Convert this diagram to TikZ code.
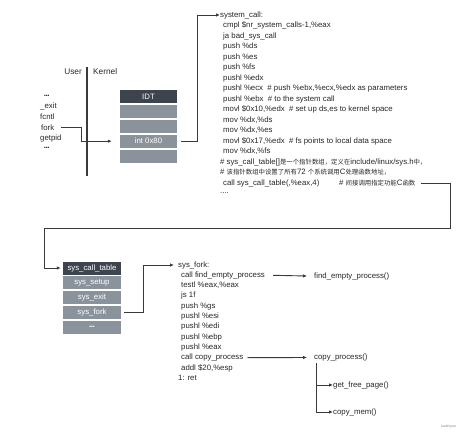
\documentclass[tikz,border=0pt]{standalone}
\usepackage{fontspec}
\setmainfont{Liberation Sans}
\newfontfamily\cjk[Scale=0.82]{Noto Sans CJK SC}
\usetikzlibrary{arrows.meta,positioning}
\definecolor{headgray}{HTML}{3E444D}
\definecolor{cellgray}{HTML}{8A939B}
\definecolor{linegray}{HTML}{3A3A3A}
\newcommand{\bdots}{{\fontsize{5}{6}\selectfont\textbf{•••}}}
\tikzset{
  cell/.style={fill=cellgray, text=white, minimum width=57pt, minimum height=13pt, inner sep=0pt, font=\fontsize{7.8}{9}\selectfont},
  head/.style={cell, fill=headgray},
  code/.style={anchor=west, inner sep=0pt, font=\fontsize{7.8}{9}\selectfont, text=black!85},
  arr/.style={-{Latex[length=4pt,width=3.5pt]}, draw=linegray, line width=0.9pt}
}
\begin{document}
\begin{tikzpicture}[x=1pt,y=-1pt]
\useasboundingbox (0,0) rectangle (474,436);
% user / kernel split
\node[code, anchor=east, font=\fontsize{8.3}{9}\selectfont] (user) at (82,72) {User};
\node[code, font=\fontsize{8.3}{9}\selectfont] (kernel) at (93,72) {Kernel};
\coordinate (septop) at (87,67);
\coordinate (sepbot) at (87,176);
\draw[linegray, line width=1.2pt] (septop) -- (sepbot);
\node[code] (dots1) at (44,96) {\bdots};
\node[code] (exit) at (40,106.5) {\_exit};
\node[code] (fcntl) at (40,117) {fcntl};
\node[code] (fork) at (41,127.5) {fork};
\node[code] (getpid) at (40,138) {getpid};
\node[code] (dots2) at (44,148) {\bdots};

% IDT
\node[head] (idt0) at (148.5,96.5) {IDT};
\node[cell, below=1.5pt of idt0] (idt1) {};
\node[cell, below=1.5pt of idt1] (idt2) {};
\node[cell, below=1.5pt of idt2] (idt3) {int 0x80};
\node[cell, below=1.5pt of idt3] (idt4) {};
\draw[arr] ([xshift=7pt]fork.east) -- ++(20,0) |- ([xshift=-8pt]idt3.west);

% system_call
\node[code] (sc-0) at (220,15) {system\_call:};
\foreach \txt [count=\i] in {
  cmpl \$nr\_system\_calls-1{,}\%eax,
  ja bad\_sys\_call,
  push \%ds,
  push \%es,
  push \%fs,
  pushl \%edx,
  {pushl \%ecx~~\# push \%ebx,\%ecx,\%edx as parameters},
  pushl \%ebx~~\# to the system call,
  {movl \$0x10,\%edx~~\# set up ds,es to kernel space},
  {mov \%dx,\%ds},
  {mov \%dx,\%es},
  {movl \$0x17,\%edx~~\# fs points to local data space},
  {mov \%dx,\%fs}}
  \node[code] (sc-\i) at (223,15+10.5*\i) {\txt};
\node[code] (sc-14) at (220,162) {\# sys\_call\_table[]{\cjk 是一个指针数组，定义在}include/linux/sys.h{\cjk 中，}};
\node[code] (sc-15) at (220,172.5) {\# {\cjk 该指针数组中设置了所有}72 {\cjk 个系统调用}C{\cjk 处理函数地址，}};
\node[code] (sc-16) at (223,183) {call sys\_call\_table(,\%eax,4)};
\node[code] (sccmt) at (339,183) {\# {\cjk 间接调用指定功能}C{\cjk 函数}};
\node[code] (sc-17) at (220,193.5) {....};
\draw[arr] ([xshift=4pt]idt3.east) -- ++(16,0) |- (sc-0.west);

% sys_call_table
\coordinate (back) at (44,228);
\node[head, minimum width=58pt] (sct0) at (92,268) {sys\_call\_table};
\node[cell, minimum width=58pt, below=1.5pt of sct0] (sct1) {sys\_setup};
\node[cell, minimum width=58pt, below=1.5pt of sct1] (sct2) {sys\_exit};
\node[cell, minimum width=58pt, below=1.5pt of sct2] (sct3) {sys\_fork};
\node[cell, minimum width=58pt, below=1.5pt of sct3] (sct4) {\bdots};
\draw[arr] ([xshift=5pt]sccmt.east) -- (450,183) |- (back) |- ([xshift=-2pt]sct0.west);

% sys_fork
\node[code] (sf-0) at (178,265) {sys\_fork:};
\foreach \txt [count=\i] in {
  call find\_empty\_process,
  {testl \%eax,\%eax},
  js 1f,
  push \%gs,
  pushl \%esi,
  pushl \%edi,
  pushl \%ebp,
  pushl \%eax,
  call copy\_process,
  {addl \$20,\%esp}}
  \node[code] (sf-\i) at (181,265+10.3*\i) {\txt};
\node[code] (sf-11) at (178,378.3) {1: ret};
\draw[arr] ([xshift=3pt]sct3.east) -- ++(19,0) |- ([xshift=-4pt]sf-0.west);

% callees
\node[code] (fep) at (314,276) {find\_empty\_process()};
\node[code] (cpp) at (314,357.5) {copy\_process()};
\node[code] (gfp) at (333,385) {get\_free\_page()};
\node[code] (cpm) at (333,412) {copy\_mem()};
\draw[arr] ([xshift=8pt]sf-1.east) -- ([xshift=-7pt]fep.west);
\draw[arr] ([xshift=4pt]sf-9.east) -- ([xshift=-7pt]cpp.west);
\draw[arr] ([xshift=2pt,yshift=-2pt]cpp.south west) |- (gfp.west);
\draw[arr] ([xshift=2pt,yshift=-2pt]cpp.south west) |- (cpm.west);

\node[code, font=\fontsize{3.5}{4}\selectfont, text=black!50] (mark) at (441,427) {luozhiyun};
\end{tikzpicture}
\end{document}
